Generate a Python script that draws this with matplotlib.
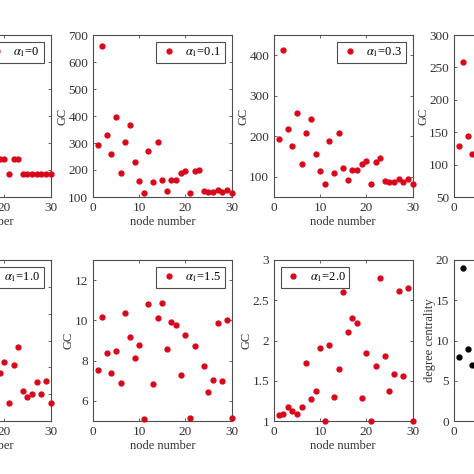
import numpy as np
import matplotlib
matplotlib.use('Agg')
import matplotlib.pyplot as plt

plt.rcParams['font.family'] = 'serif'
plt.rcParams['font.serif'] = ['Liberation Serif', 'DejaVu Serif']
plt.rcParams['mathtext.fontset'] = 'stix'
plt.rcParams['font.size'] = 9

red = '#d9061a'
edge = '0.3'

# alpha1 = 0 (only right part visible)
n0 = list(range(19, 31))
gc0 = [240, 240, 185, 240, 240, 185, 185, 185, 185, 185, 185, 185]

# alpha1 = 0.1
n01 = list(range(1, 31))
gc01 = [294, 659, 331, 260, 396, 190, 303, 366, 229, 159,
        116, 271, 156, 303, 163, 122, 162, 162, 190, 195,
        116, 195, 201, 121, 119, 119, 125, 120, 125, 115]

# alpha1 = 0.3
n03 = list(range(1, 31))
gc03 = [194, 412, 218, 175, 257, 131, 208, 242, 157, 115,
        83, 189, 110, 207, 121, 92, 117, 117, 132, 139,
        83, 137, 147, 89, 86, 88, 94, 88, 94, 83]

# next panel (only left part visible)
n05 = [1, 2, 3, 4]
gc05 = [129, 258, 144, 116]

# alpha1 = 1.0 (only right part visible)
n10 = list(range(19, 31))
gc10 = [5.79, 6.20, 4.66, 6.10, 6.75, 5.12, 4.90, 5.01, 5.46, 5.01, 5.49, 4.66]

# alpha1 = 1.5 (node 23 hidden)
n15 = [1, 2, 3, 4, 5, 6, 7, 8, 9, 10, 11, 12, 13, 14, 15, 16, 17, 18, 19, 20,
       21, 22, 24, 25, 26, 27, 28, 29, 30]
gc15 = [7.55, 10.19, 8.40, 7.40, 8.47, 6.88, 10.37, 9.17, 8.11, 8.79,
        5.12, 10.79, 6.83, 10.14, 10.88, 8.57, 9.91, 9.76, 7.30, 9.28,
        5.17, 8.72, 7.73, 6.42, 7.05, 9.88, 7.00, 10.0, 5.15]

# alpha1 = 2.0
n20 = list(range(1, 31))
gc20 = [1.07, 1.09, 1.18, 1.12, 1.09, 1.18, 1.72, 1.275, 1.375, 1.91,
        1.0, 1.94, 1.30, 1.65, 2.60, 2.11, 2.28, 2.22, 1.29, 1.84,
        1.0, 1.68, 2.78, 1.81, 1.37, 1.58, 2.62, 1.56, 2.65, 1.0]

# degree centrality (only left part visible)
nd = [1, 2, 3, 4]
deg = [8, 19, 9, 7]

fig = plt.figure(figsize=(4.74, 4.74), dpi=100)

W = 474.0
aw = 138.5 / W
top_b, top_h = (474 - 197) / W, 162 / W
bot_b, bot_h = (474 - 421) / W, 161 / W
lefts = [-88 / W, 93 / W, 274 / W, 454 / W]


def panel(left, bottom, height, x, y, ylim, yticks, label=None, loc='upper right',
          color=red, ylabel='GC', yticklabels=None):
    ax = fig.add_axes([left, bottom, aw, height])
    ax.plot(x, y, 'o', ms=3.5, color=color, mec=color, clip_on=False,
            zorder=3, label=label)
    ax.set_xlim(0, 30)
    ax.set_ylim(*ylim)
    ax.set_xticks([0, 10, 20, 30])
    ax.set_yticks(yticks)
    if yticklabels is not None:
        ax.set_yticklabels(yticklabels)
    ax.tick_params(direction='in', length=2.5, width=0.6, top=True, right=True,
                   colors=edge, labelcolor='0.2', labelsize=9.5, pad=3.5)
    for s in ax.spines.values():
        s.set_color(edge)
        s.set_linewidth(0.8)
    ax.set_xlabel('node number', fontsize=9, color='0.2', labelpad=1.5)
    ax.set_ylabel(ylabel, fontsize=9, color='0.2', labelpad=0)
    if label is not None:
        leg = ax.legend(loc=loc, numpoints=1, fancybox=False, framealpha=1,
                        edgecolor=edge, fontsize=9, handlelength=1.4,
                        handletextpad=0.6, borderpad=0.3, borderaxespad=0.55)
        leg.get_frame().set_linewidth(0.8)
        leg.set_zorder(5)
    return ax


panel(lefts[0], top_b, top_h, n0, gc0, (100, 700), range(100, 701, 100),
      r'$\alpha_1$=0')
panel(lefts[1], top_b, top_h, n01, gc01, (100, 700), range(100, 701, 100),
      r'$\alpha_1$=0.1')
panel(lefts[2], top_b, top_h, n03, gc03, (50, 450), [100, 200, 300, 400],
      r'$\alpha_1$=0.3')
panel(lefts[3], top_b, top_h, n05, gc05, (50, 300), range(50, 301, 50))

panel(lefts[0], bot_b, bot_h, n10, gc10, (4, 10), range(4, 11),
      r'$\alpha_1$=1.0')
panel(lefts[1], bot_b, bot_h, n15, gc15, (5, 13), [6, 8, 10, 12],
      r'$\alpha_1$=1.5')
panel(lefts[2], bot_b, bot_h, n20, gc20, (1, 3), [1, 1.5, 2, 2.5, 3],
      r'$\alpha_1$=2.0', loc='upper left', yticklabels=['1', '1.5', '2', '2.5', '3'])
panel(lefts[3], bot_b, bot_h, nd, deg, (0, 20), [0, 5, 10, 15, 20],
      color='black', ylabel='degree centrality')

fig.savefig('out.png', dpi=100)
